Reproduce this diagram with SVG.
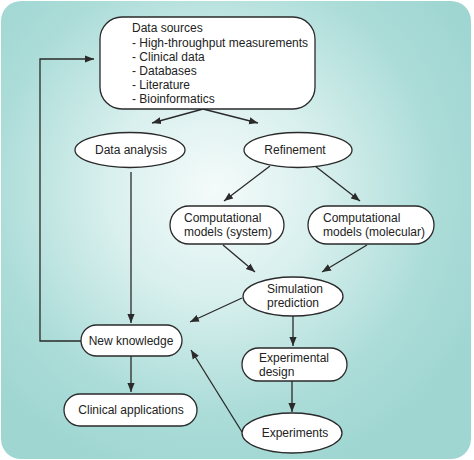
<svg xmlns="http://www.w3.org/2000/svg" width="474" height="460" viewBox="0 0 474 460">
<defs>
<radialGradient id="bg" cx="215" cy="190" r="300" gradientUnits="userSpaceOnUse">
<stop offset="0" stop-color="#f4fbfa"/>
<stop offset="0.35" stop-color="#d9f0ee"/>
<stop offset="0.75" stop-color="#abdcd8"/>
<stop offset="1" stop-color="#9fd6d2"/>
</radialGradient>
<marker id="ah" viewBox="0 0 10 10" refX="10" refY="5" markerWidth="9" markerHeight="9" markerUnits="userSpaceOnUse" orient="auto">
<path d="M0,1 L10,5 L0,9 Z" fill="#2a2a2a"/>
</marker>
<style>
.n{fill:#fff;stroke:#2a2a2a;stroke-width:1.3}
.t{font-family:"Liberation Sans",Arial,sans-serif;font-size:12px;fill:#222}
.c{text-anchor:middle}
.e{fill:none;stroke:#2a2a2a;stroke-width:1.3;marker-end:url(#ah)}
.l{fill:none;stroke:#2a2a2a;stroke-width:1.3}
</style>
</defs>
<rect x="0" y="0" width="474" height="460" fill="#fff"/>
<rect x="1" y="1" width="470" height="458" rx="20" fill="url(#bg)"/>
<g id="connectors">
<path class="e" d="M203,109 L152,123"/>
<path class="e" d="M203,109 L258,123"/>
<path class="e" d="M131,172 L131,323"/>
<path class="e" d="M270,166 L224,201"/>
<path class="e" d="M315,166 L360,201"/>
<path class="e" d="M223,245 L255,272"/>
<path class="e" d="M367,245 L322,272"/>
<path class="e" d="M242,298 L190,322"/>
<path class="e" d="M293,316 L293,346"/>
<path class="e" d="M292,381 L292,412"/>
<path class="e" d="M242,432 L191,350"/>
<path class="e" d="M131,356 L131,392"/>
<path class="e" d="M81,341 L40,341 L40,59 L94,59"/>
</g>
<g id="data-sources">
<rect class="n" x="100" y="17" width="215" height="92" rx="22"/>
<text class="t" x="132" y="32">Data sources</text>
<text class="t" x="132" y="47">- High-throughput measurements</text>
<text class="t" x="132" y="61">- Clinical data</text>
<text class="t" x="132" y="75">- Databases</text>
<text class="t" x="132" y="89">- Literature</text>
<text class="t" x="132" y="103">- Bioinformatics</text>
</g>
<g id="data-analysis">
<ellipse class="n" cx="130" cy="150" rx="55" ry="17.5"/>
<text class="t c" x="131" y="154">Data analysis</text>
</g>
<g id="refinement">
<ellipse class="n" cx="298" cy="150" rx="54" ry="17.5"/>
<text class="t c" x="295" y="154">Refinement</text>
</g>
<g id="comp-system">
<rect class="n" x="170" y="206" width="114" height="38" rx="19"/>
<text class="t" x="184" y="222">Computational</text>
<text class="t" x="184" y="236">models (system)</text>
</g>
<g id="comp-molecular">
<rect class="n" x="308" y="206" width="126" height="38" rx="19"/>
<text class="t" x="323" y="222">Computational</text>
<text class="t" x="323" y="236">models (molecular)</text>
</g>
<g id="simulation">
<ellipse class="n" cx="293" cy="296.5" rx="50" ry="19.5"/>
<text class="t c" x="295" y="293">Simulation</text>
<text class="t c" x="293" y="307">prediction</text>
</g>
<g id="new-knowledge">
<rect class="n" x="81" y="325" width="101" height="31" rx="15.5"/>
<text class="t c" x="131" y="345">New knowledge</text>
</g>
<g id="experimental-design">
<rect class="n" x="242" y="348" width="105" height="33" rx="16.5"/>
<text class="t" x="259" y="362">Experimental</text>
<text class="t" x="259" y="376">design</text>
</g>
<g id="clinical-applications">
<rect class="n" x="64" y="394" width="133" height="32" rx="16"/>
<text class="t c" x="131" y="414">Clinical applications</text>
</g>
<g id="experiments">
<ellipse class="n" cx="292" cy="433" rx="50" ry="20"/>
<text class="t c" x="295" y="437">Experiments</text>
</g>
</svg>
